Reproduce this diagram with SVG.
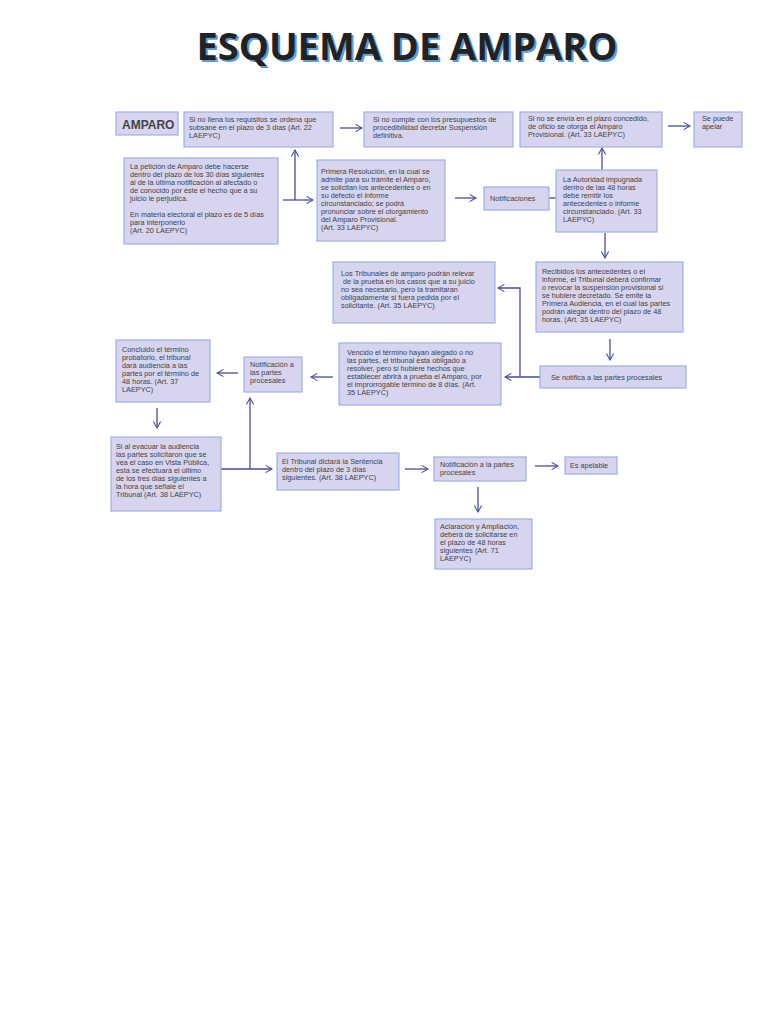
<svg xmlns="http://www.w3.org/2000/svg" width="768" height="1024" viewBox="0 0 768 1024">
<defs>
<style>
.b{fill:#d6d4ef;stroke:#9fb0e6;stroke-width:1.2}
.t{font-family:"Liberation Sans",Arial,sans-serif;font-size:7.3px;fill:#444}
.c{stroke:#4a4aa0;stroke-width:1.3;fill:none}
</style>
<marker id="a" viewBox="0 0 10 10" refX="9" refY="5" markerWidth="8" markerHeight="8" orient="auto" markerUnits="userSpaceOnUse"><path d="M1,0.5 L9,5 L1,9.5" fill="none" stroke="#4a4aa0" stroke-width="1.3"/></marker>
</defs>
<rect width="768" height="1024" fill="#fff"/>
<g id="title" font-family="'Open Sans',sans-serif" font-weight="bold" font-size="38" text-anchor="middle">
<text x="409" y="62" fill="#5b9bd5">ESQUEMA DE AMPARO</text>
<text x="407" y="60" fill="#222">ESQUEMA DE AMPARO</text>
</g>
<g id="connectors" class="c">
<path d="M340,128H362" marker-end="url(#a)"/>
<path d="M668,126H690" marker-end="url(#a)"/>
<path d="M283,200H313" marker-end="url(#a)"/>
<path d="M295,200V150" marker-end="url(#a)"/>
<path d="M455,198H476" marker-end="url(#a)"/>
<path d="M549,198H556"/>
<path d="M602,170V148" marker-end="url(#a)"/>
<path d="M605,233V258" marker-end="url(#a)"/>
<path d="M610,339V360" marker-end="url(#a)"/>
<path d="M540,377H505" marker-end="url(#a)"/>
<path d="M520,377V288H498" marker-end="url(#a)"/>
<path d="M333,377H311" marker-end="url(#a)"/>
<path d="M238,373H217" marker-end="url(#a)"/>
<path d="M157,408V428" marker-end="url(#a)"/>
<path d="M221,469H272" marker-end="url(#a)"/>
<path d="M250,469V398" marker-end="url(#a)"/>
<path d="M405,469H428" marker-end="url(#a)"/>
<path d="M535,466H558" marker-end="url(#a)"/>
<path d="M478,487V512" marker-end="url(#a)"/>
</g>
<g id="amparo"><rect class="b" x="116" y="112" width="62" height="23"/><text x="122" y="129" font-family="'Liberation Sans',Arial,sans-serif" font-weight="bold" font-size="12" fill="#444">AMPARO</text></g>
<g id="n1"><rect class="b" x="184" y="112" width="149" height="35"/><text class="t"><tspan x="189" y="122">Si no llena los requisitos se ordena que</tspan><tspan x="189" y="130">subsane en el plazo de 3 días (Art. 22</tspan><tspan x="189" y="138">LAEPYC)</tspan></text></g>
<g id="n2"><rect class="b" x="364" y="112" width="149" height="35"/><text class="t"><tspan x="373" y="122">Si no cumple con los presupuestos de</tspan><tspan x="373" y="130">procedibilidad decretar Suspensión</tspan><tspan x="373" y="138">definitiva.</tspan></text></g>
<g id="n3"><rect class="b" x="520" y="112" width="142" height="35"/><text class="t"><tspan x="528" y="121">Si no se envía en el plazo concedido,</tspan><tspan x="528" y="129">de oficio se otorga el Amparo</tspan><tspan x="528" y="137">Provisional. (Art. 33 LAEPYC)</tspan></text></g>
<g id="n4"><rect class="b" x="694" y="112" width="48" height="35"/><text class="t"><tspan x="702" y="121">Se puede</tspan><tspan x="702" y="129">apelar</tspan></text></g>
<g id="n5"><rect class="b" x="124" y="158" width="154" height="86"/><text class="t"><tspan x="130" y="169">La petición de Amparo debe  hacerse</tspan><tspan x="130" y="177">dentro del plazo de los 30 días siguientes</tspan><tspan x="130" y="185">al de la última notificación al afectado o</tspan><tspan x="130" y="193">de conocido por éste el hecho que a su</tspan><tspan x="130" y="201">juicio le perjudica.</tspan><tspan x="130" y="217">En materia electoral el plazo es de 5 días</tspan><tspan x="130" y="225">para interponerlo</tspan><tspan x="130" y="233">(Art. 20 LAEPYC)</tspan></text></g>
<g id="n6"><rect class="b" x="317" y="160" width="128" height="81"/><text class="t"><tspan x="321" y="174">Primera Resolución, en la cual se</tspan><tspan x="321" y="182">admite para su trámite el Amparo,</tspan><tspan x="321" y="190">se solicitan los antecedentes o en</tspan><tspan x="321" y="198">su defecto el informe</tspan><tspan x="321" y="206">circunstanciado; se podrá</tspan><tspan x="321" y="214">pronunciar sobre el otorgamiento</tspan><tspan x="321" y="222">del Amparo Provisional.</tspan><tspan x="321" y="230">(Art. 33 LAEPYC)</tspan></text></g>
<g id="n7"><rect class="b" x="484" y="187" width="65" height="23"/><text class="t" x="490" y="201">Notificaciones</text></g>
<g id="n8"><rect class="b" x="556" y="170" width="101" height="62"/><text class="t"><tspan x="563" y="182">La Autoridad impugnada</tspan><tspan x="563" y="190">dentro de las 48 horas</tspan><tspan x="563" y="198">debe remitir los</tspan><tspan x="563" y="206">antecedentes o informe</tspan><tspan x="563" y="214">circunstanciado. (Art. 33</tspan><tspan x="563" y="222">LAEPYC)</tspan></text></g>
<g id="n9"><rect class="b" x="536" y="262" width="147" height="70"/><text class="t"><tspan x="542" y="274">Recibidos los antecedentes o el</tspan><tspan x="542" y="282">informe, el Tribunal deberá confirmar</tspan><tspan x="542" y="290">o revocar la suspensión provisional si</tspan><tspan x="542" y="298">se hubiere decretado. Se emite la</tspan><tspan x="542" y="306">Primera Audiencia, en el cual las partes</tspan><tspan x="542" y="314">podrán alegar dentro  del plazo de 48</tspan><tspan x="542" y="322">horas. (Art. 35 LAEPYC)</tspan></text></g>
<g id="n10"><rect class="b" x="333" y="262" width="162" height="61"/><text class="t"><tspan x="341" y="276">Los Tribunales de amparo podrán relevar</tspan><tspan x="341" y="284"> de la prueba en los casos que a su juicio</tspan><tspan x="341" y="292">no sea necesario, pero la tramitaran</tspan><tspan x="341" y="300">obligadamente si fuera pedida por el</tspan><tspan x="341" y="308">solicitante. (Art. 35 LAEPYC)</tspan></text></g>
<g id="n11"><rect class="b" x="540" y="366" width="146" height="22"/><text class="t" x="551" y="380">Se notifica a las partes procesales</text></g>
<g id="n12"><rect class="b" x="339" y="343" width="162" height="62"/><text class="t"><tspan x="347" y="355">Vencido el término hayan alegado o no</tspan><tspan x="347" y="363">las partes, el tribunal esta obligado a</tspan><tspan x="347" y="371">resolver, pero si hubiere hechos que</tspan><tspan x="347" y="379">establecer abrirá a prueba el Amparo, por</tspan><tspan x="347" y="387">el improrrogable término de 8 días. (Art.</tspan><tspan x="347" y="395">35 LAEPYC)</tspan></text></g>
<g id="n13"><rect class="b" x="244" y="357" width="58" height="35"/><text class="t"><tspan x="250" y="367">Notificación a</tspan><tspan x="250" y="375">las partes</tspan><tspan x="250" y="383">procesales</tspan></text></g>
<g id="n14"><rect class="b" x="116" y="340" width="94" height="62"/><text class="t"><tspan x="122" y="352">Concluido el término</tspan><tspan x="122" y="360">probatorio, el tribunal</tspan><tspan x="122" y="368">dará audiencia a las</tspan><tspan x="122" y="376">partes por el término de</tspan><tspan x="122" y="384">48 horas.   (Art. 37</tspan><tspan x="122" y="392">LAEPYC)</tspan></text></g>
<g id="n15"><rect class="b" x="111" y="437" width="110" height="74"/><text class="t"><tspan x="116" y="449">Si al evacuar la audiencia</tspan><tspan x="116" y="457">las partes solicitaron que se</tspan><tspan x="116" y="465">vea el caso en Vista Pública,</tspan><tspan x="116" y="473">esta se efectuará el último</tspan><tspan x="116" y="481">de los tres días siguientes a</tspan><tspan x="116" y="489">la hora que señale el</tspan><tspan x="116" y="497">Tribunal  (Art. 38 LAEPYC)</tspan></text></g>
<g id="n16"><rect class="b" x="277" y="453" width="122" height="37"/><text class="t"><tspan x="282" y="464">El Tribunal dictará  la Sentencia</tspan><tspan x="282" y="472">dentro del plazo de 3 días</tspan><tspan x="282" y="480">siguientes. (Art. 38 LAEPYC)</tspan></text></g>
<g id="n17"><rect class="b" x="434" y="457" width="92" height="24"/><text class="t"><tspan x="440" y="467">Notificación a la partes</tspan><tspan x="440" y="475">procesales</tspan></text></g>
<g id="n18"><rect class="b" x="565" y="457" width="52" height="17"/><text class="t" x="570" y="468">Es apelable</text></g>
<g id="n19"><rect class="b" x="435" y="519" width="97" height="50"/><text class="t"><tspan x="440" y="529">Aclaración y Ampliación,</tspan><tspan x="440" y="537">deberá de solicitarse en</tspan><tspan x="440" y="545">el plazo de 48 horas</tspan><tspan x="440" y="553">siguientes (Art. 71</tspan><tspan x="440" y="561">LAEPYC)</tspan></text></g>
</svg>
